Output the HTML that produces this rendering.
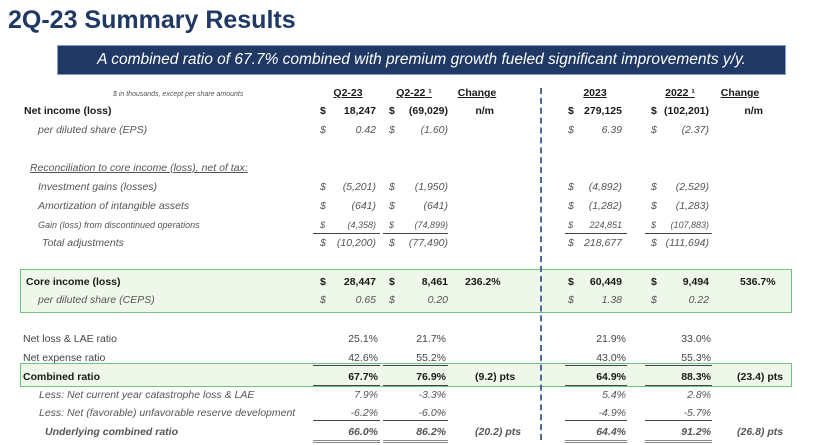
<!DOCTYPE html>
<html><head><meta charset="utf-8"><style>
body{margin:0;width:817px;height:445px;background:#fff;position:relative;overflow:hidden;font-family:"Liberation Sans",sans-serif;}
.t{position:absolute;white-space:nowrap;font-size:10.5px;line-height:12px;color:#333;}
.b{font-weight:bold;color:#1a1a1a;}
.i{font-style:italic;color:#555;}
.s{font-style:italic;color:#555;font-size:9px;}
.n{color:#444;}
.box{position:absolute;border:1.5px solid #6cc57a;background:#eef7ea;box-sizing:border-box;}
.ln{position:absolute;height:1px;background:#444;}
.dl{position:absolute;height:3px;border-top:1px solid #888;border-bottom:1px solid #888;box-sizing:border-box;}
</style></head><body>
<div class="t" style="left:8px;top:5px;font-size:25px;line-height:30px;font-weight:bold;color:#1f3864;">2Q-23 Summary Results</div>
<div style="position:absolute;left:57px;top:45px;width:729px;height:30px;background:#1f3864;border:1px solid #8a9cc0;box-sizing:border-box;color:#fff;font-style:italic;font-size:15.5px;line-height:28px;text-align:center;">A combined ratio of 67.7% combined with premium growth fueled significant improvements y/y.</div>
<div class="box" style="left:20px;top:269px;width:772px;height:44px;"></div>
<div class="box" style="left:20px;top:363px;width:772px;height:24px;"></div>
<div style="position:absolute;left:540px;top:88px;width:0;height:352px;border-left:2px dashed #4a6a9a;"></div>
<div class="t s" style="left:113px;top:89px;font-size:7px;">$ in thousands, except per share amounts</div>
<div id="c"></div>
<script>
const headers=[["Q2-23",348],["Q2-22 ¹",414],["Change",477],["2023",595],["2022 ¹",680],["Change",740]];
const labels=["Net income (loss)","per diluted share (EPS)","Reconciliation to core income (loss), net of tax:","Investment gains (losses)","Amortization of intangible assets","Gain (loss) from discontinued operations","Total adjustments","Core income (loss)","per diluted share (CEPS)","Net loss & LAE ratio","Net expense ratio","Combined ratio","Less:  Net current year catastrophe loss & LAE","Less: Net (favorable) unfavorable reserve development","Underlying combined ratio"];
const q223=["18,247","0.42","","(5,201)","(641)","(4,358)","(10,200)","28,447","0.65","25.1%","42.6%","67.7%","7.9%","-6.2%","66.0%"];
const q222=["(69,029)","(1.60)","","(1,950)","(641)","(74,899)","(77,490)","8,461","0.20","21.7%","55.2%","76.9%","-3.3%","-6.0%","86.2%"];
const chgQ=["n/m","","","","","","","236.2%","","","","(9.2) pts","","","(20.2) pts"];
const y2023=["279,125","6.39","","(4,892)","(1,282)","224,851","218,677","60,449","1.38","21.9%","43.0%","64.9%","5.4%","-4.9%","64.4%"];
const y2022=["(102,201)","(2.37)","","(2,529)","(1,283)","(107,883)","(111,694)","9,494","0.22","33.0%","55.3%","88.3%","2.8%","-5.7%","91.2%"];
const chgY=["n/m","","","","","","","536.7%","","","","(23.4) pts","","","(26.8) pts"];
const rowY=[111,130,168,187,206,225,243,282,300,339,358,377,395,413,432];
const lx=[24,38,30,38,38,38,42,26,38,23,23,23,39,39,45];
const sty=["b","i","i","i","i","s","i","b","i","n","n","b","i","i","b i"];
const dollar=[1,1,0,1,1,1,1,1,1,0,0,0,0,0,0];
const C=document.getElementById('c');
function put(x,y,txt,cls,name,right){
 const e=document.createElement('div');
 e.className='t '+cls;
 e.textContent=txt;
 e.style.top=(y-6)+'px';
 if(right){e.style.right=(817-x)+'px';}else{e.style.left=x+'px';}
 
 
 C.appendChild(e);
}
headers.forEach((h,k)=>{
 const e=document.createElement('div');
 e.className='t b';
 e.textContent=h[0];
 e.style.top='87px';
 e.style.left=(h[1]-20)+'px';
 e.style.width='40px';
 e.style.textAlign='center';
 e.style.textDecoration='underline';
 
 
 C.appendChild(e);
});
labels.forEach((l,r)=>{
 const y=rowY[r],c=sty[r];
 put(lx[r],y,l,c,'row-label-'+r,false);
 if(r===2){C.lastChild.style.textDecoration='underline';}
 const ratio=!dollar[r];
 if(dollar[r]){put(320,y,'$',c,'dollar-q223-'+r,false);put(389,y,'$',c,'dollar-q222-'+r,false);put(568,y,'$',c,'dollar-2023-'+r,false);put(651,y,'$',c,'dollar-2022-'+r,false);}
 if(q223[r])put(ratio?378:376,y,q223[r],c,'value-q223-'+r,true);
 if(q222[r])put(ratio?446:448,y,q222[r],c,'value-q222-'+r,true);
 if(y2023[r])put(ratio?626:622,y,y2023[r],c,'value-2023-'+r,true);
 if(y2022[r])put(ratio?711:709,y,y2022[r],c,'value-2022-'+r,true);
 if(chgQ[r]){if(chgQ[r]==='n/m')put(494,y,chgQ[r],c,'change-q-'+r,true);else put(ratio?475:465,y,chgQ[r],c,'change-q-'+r,false);}
 if(chgY[r]){if(chgY[r]==='n/m')put(763,y,chgY[r],c,'change-y-'+r,true);else put(ratio?737:740,y,chgY[r],c,'change-y-'+r,false);}
});
const segs=[[313,380],[383,448],[565,627],[645,712]];
function line(y,cls,name){segs.forEach((s,k)=>{const e=document.createElement('div');e.className=cls;e.style.left=s[0]+'px';e.style.top=y+'px';e.style.width=(s[1]-s[0])+'px';


C.appendChild(e);});}
line(233,'ln','subtotal-rule');
line(365,'ln','combined-top-rule');
line(385,'ln','combined-bottom-rule');
line(420,'ln','underlying-rule');
line(440,'dl','total-double-rule');
</script>
</body></html>
